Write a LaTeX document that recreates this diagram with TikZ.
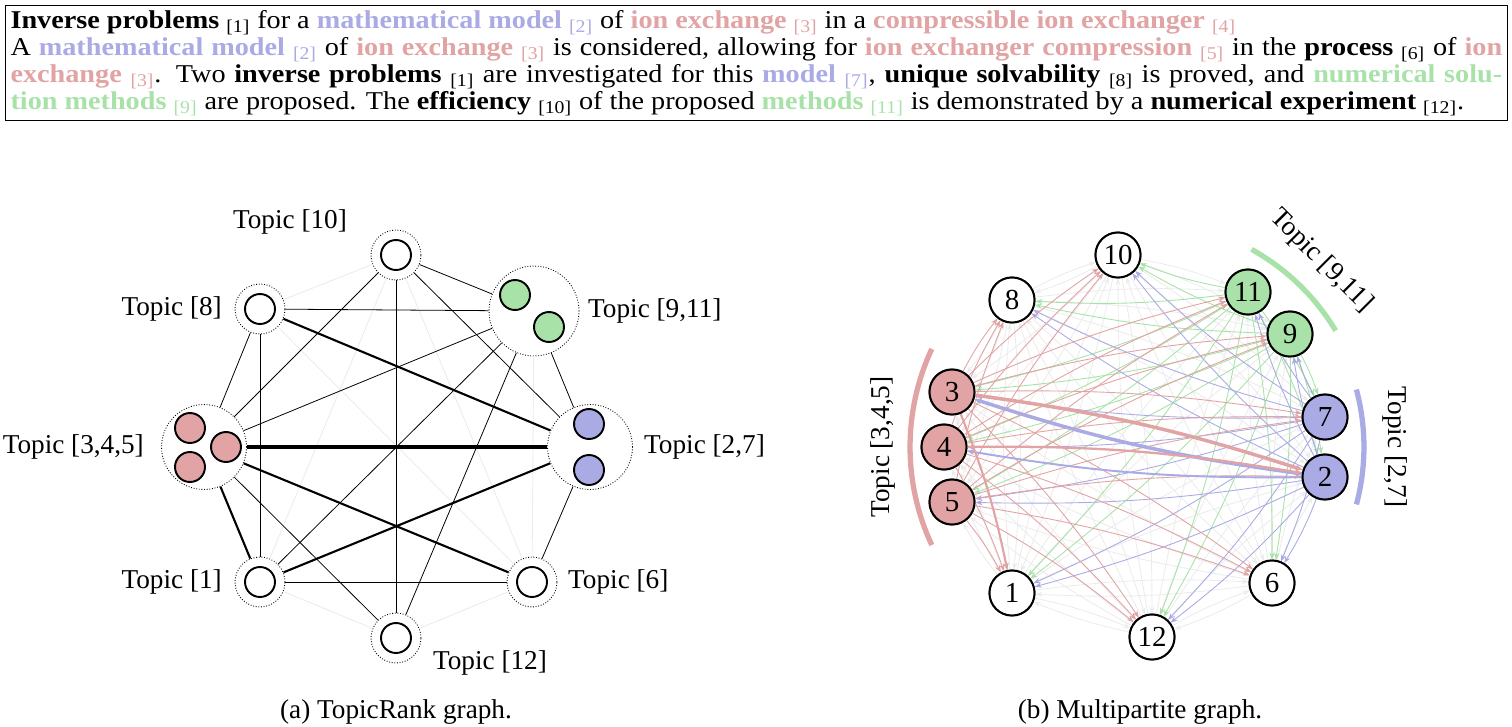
\documentclass[tikz,border=0pt]{standalone}
\usepackage{fontspec}
\setmainfont{Liberation Serif}
\newfontfamily\boxfont[FakeStretch=1.1]{Liberation Serif}
\usetikzlibrary{arrows.meta}
\definecolor{redc}{RGB}{225,163,163}
\definecolor{bluec}{RGB}{170,170,228}
\definecolor{greenc}{RGB}{168,226,168}
\definecolor{gedge}{RGB}{236,236,236}
\newcommand\rf[2]{\textsubscript{\color{#1}[#2]}}
\newcommand\Bt[1]{\textbf{\color{bluec}#1}}
\newcommand\Rt[1]{\textbf{\color{redc}#1}}
\newcommand\Gt[1]{\textbf{\color{greenc}#1}}
\tikzset{
  dotc/.style={circle,draw,densely dotted,line width=0.5pt,minimum size=#1,inner sep=0pt},
  inn/.style={circle,draw,line width=1.1pt,minimum size=0.6cm,inner sep=0pt,fill=#1},
  lab/.style={font=\fontsize{15.5}{17}\selectfont},
  thinE/.style={line width=0.45pt},
  medE/.style={line width=1.2pt},
  bigE/.style={line width=2.6pt},
  faintE/.style={gedge,line width=0.5pt},
  mn/.style={circle,draw,line width=1.1pt,minimum size=0.9cm,inner sep=0pt,fill=#1,font=\fontsize{16.5}{17}\selectfont},
  arr/.style={-{Stealth[length=4pt,width=3pt]},line width=0.5pt},
  arcR/.style={line width=3pt}
}
\begin{document}
\begin{tikzpicture}[x=0.02cm,y=-0.02cm]
\useasboundingbox (0,0) rectangle (1512,727);
\node[draw,line width=0.6pt,anchor=north west,text width=29.84cm,inner sep=0.1cm,align=justify,
  font=\boxfont\fontsize{14.6}{15.4}\selectfont] (box) at (5,5) {\parfillskip=0pt
\textbf{Inverse problems} \rf{black}{1} for a \Bt{mathematical model} \rf{bluec}{2} of \Rt{ion exchange} \rf{redc}{3} in a \Rt{compressible ion exchanger} \rf{redc}{4}\hfill\null\\
A \Bt{mathematical model} \rf{bluec}{2} of \Rt{ion exchange} \rf{redc}{3} is considered, allowing for \Rt{ion exchanger compression} \rf{redc}{5} in the \textbf{process} \rf{black}{6} of \Rt{ion}\linebreak
\Rt{exchange} \rf{redc}{3}. Two \textbf{inverse problems} \rf{black}{1} are investigated for this \Bt{model} \rf{bluec}{7}, \textbf{unique solvability} \rf{black}{8} is proved, and \Gt{numerical solu-}\linebreak
\Gt{tion methods} \rf{greenc}{9} are proposed. The \textbf{efficiency} \rf{black}{10} of the proposed \Gt{methods} \rf{greenc}{11} is demonstrated by a \textbf{numerical experiment} \rf{black}{12}.};

\node[dotc=1.0cm] (t10) at (396,255) {};
\node[dotc=1.0cm] (t8) at (260,309) {};
\node[dotc=1.8cm] (t911) at (534,311) {};
\node[dotc=1.7cm] (t345) at (204,447) {};
\node[dotc=1.7cm] (t27) at (590,447) {};
\node[dotc=1.0cm] (t1) at (260,582) {};
\node[dotc=1.0cm] (t6) at (532,582) {};
\node[dotc=1.0cm] (t12) at (396,638) {};
\foreach \a/\b in {t10/t8,t1/t12,t12/t6,t911/t6,t10/t1,t8/t6,t10/t6}
  \draw[faintE] (\a) -- (\b);
\foreach \a/\b in {t10/t911,t10/t345,t10/t12,t10/t27,t8/t911,t8/t345,t8/t1,t911/t345,t911/t1,t911/t12,t911/t27,t27/t6,t1/t6,t345/t12}
  \draw[thinE] (\a) -- (\b);
\draw[medE] (t8) -- (t27);
\draw[medE] (t345) -- (t6);
\draw[medE] (t1) -- (t27);
\draw[medE] (t345) -- (t1);
\draw[bigE] (t345) -- (t27);
\node[inn=white] (c10) at (t10) {};
\node[inn=white] (c8) at (t8) {};
\node[inn=white] (c1) at (t1) {};
\node[inn=white] (c6) at (t6) {};
\node[inn=white] (c12) at (t12) {};
\node[inn=greenc] (c11) at (515,295) {};
\node[inn=greenc] (c9) at (549,327) {};
\node[inn=redc] (c3) at (190,428) {};
\node[inn=redc] (c4) at (226,447) {};
\node[inn=redc] (c5) at (190,467) {};
\node[inn=bluec] (c7) at (589,424) {};
\node[inn=bluec] (c2) at (589,470) {};
\node[lab] (l10) at (290,222) {Topic [10]};
\node[lab,anchor=east] (l8) at (228,309) {Topic [8]};
\node[lab,anchor=west] (l911) at (582,311) {Topic [9,11]};
\node[lab,anchor=east] (l345) at (150,447) {Topic [3,4,5]};
\node[lab,anchor=west] (l27) at (638,447) {Topic [2,7]};
\node[lab,anchor=east] (l1) at (228,582) {Topic [1]};
\node[lab,anchor=west] (l6) at (562,582) {Topic [6]};
\node[lab] (l12) at (490,663) {Topic [12]};
\node[lab] (capa) at (396,712) {(a) TopicRank graph.};

\node[mn=white] (r10) at (1118,255) {10};
\node[mn=white] (r8) at (1012,300) {8};
\node[mn=greenc] (r11) at (1248,292) {11};
\node[mn=greenc] (r9) at (1290,334) {9};
\node[mn=redc] (r3) at (952,392) {3};
\node[mn=bluec] (r7) at (1325,417) {7};
\node[mn=redc] (r4) at (944,447) {4};
\node[mn=bluec] (r2) at (1325,477) {2};
\node[mn=redc] (r5) at (952,502) {5};
\node[mn=white] (r1) at (1012,593) {1};
\node[mn=white] (r6) at (1272,583) {6};
\node[mn=white] (r12) at (1152,637) {12};
\foreach \u/\gu/\cu in {1/1/gedge,6/6/gedge,8/8/gedge,10/10/gedge,12/12/gedge,9/9/greenc,11/9/greenc,2/2/bluec,7/2/bluec,3/3/redc,4/3/redc,5/3/redc}{
  \foreach \v/\gv in {1/1,2/2,3/3,4/3,5/3,6/6,7/2,8/8,9/9,10/10,11/9,12/12}{
    \ifnum\gu=\gv\relax\else
      \draw[arr,\cu] (r\u) to[bend left=5] (r\v);
    \fi
  }
}
\draw[arr,redc,line width=2pt] (r3) to[bend left=5] (r2);
\draw[arr,bluec,line width=2pt] (r2) to[bend left=5] (r3);
\draw[arr,redc,line width=1.3pt] (r4) to[bend left=5] (r2);
\draw[arr,bluec,line width=1.1pt] (r2) to[bend left=5] (r4);
\draw[arr,redc,line width=1.2pt] (r3) to[bend left=5] (r1);
\foreach \n/\c/\p in {10/white/{(1118,255)},8/white/{(1012,300)},11/greenc/{(1248,292)},9/greenc/{(1290,334)},3/redc/{(952,392)},7/bluec/{(1325,417)},4/redc/{(944,447)},2/bluec/{(1325,477)},5/redc/{(952,502)},1/white/{(1012,593)},6/white/{(1272,583)},12/white/{(1152,637)}}
  \node[mn=\c] (q\n) at \p {\n};
\coordinate (ctr) at (1142,447);
\draw[arcR,redc] ([shift={(155:4.64cm)}]ctr) arc[start angle=155,end angle=205,radius=4.64cm];
\draw[arcR,bluec] ([shift={(-15:4.44cm)}]ctr) arc[start angle=-15,end angle=15,radius=4.44cm];
\draw[arcR,greenc] ([shift={(31:4.52cm)}]ctr) arc[start angle=31,end angle=61,radius=4.52cm];
\node[lab,rotate=90] (lr345) at (883,447) {Topic [3,4,5]};
\node[lab,rotate=-90] (lr27) at (1395,447) {Topic [2,7]};
\node[lab,rotate=-45] (lr911) at (1321,261) {Topic [9,11]};
\node[lab] (capb) at (1140,712) {(b) Multipartite graph.};
\end{tikzpicture}
\end{document}
